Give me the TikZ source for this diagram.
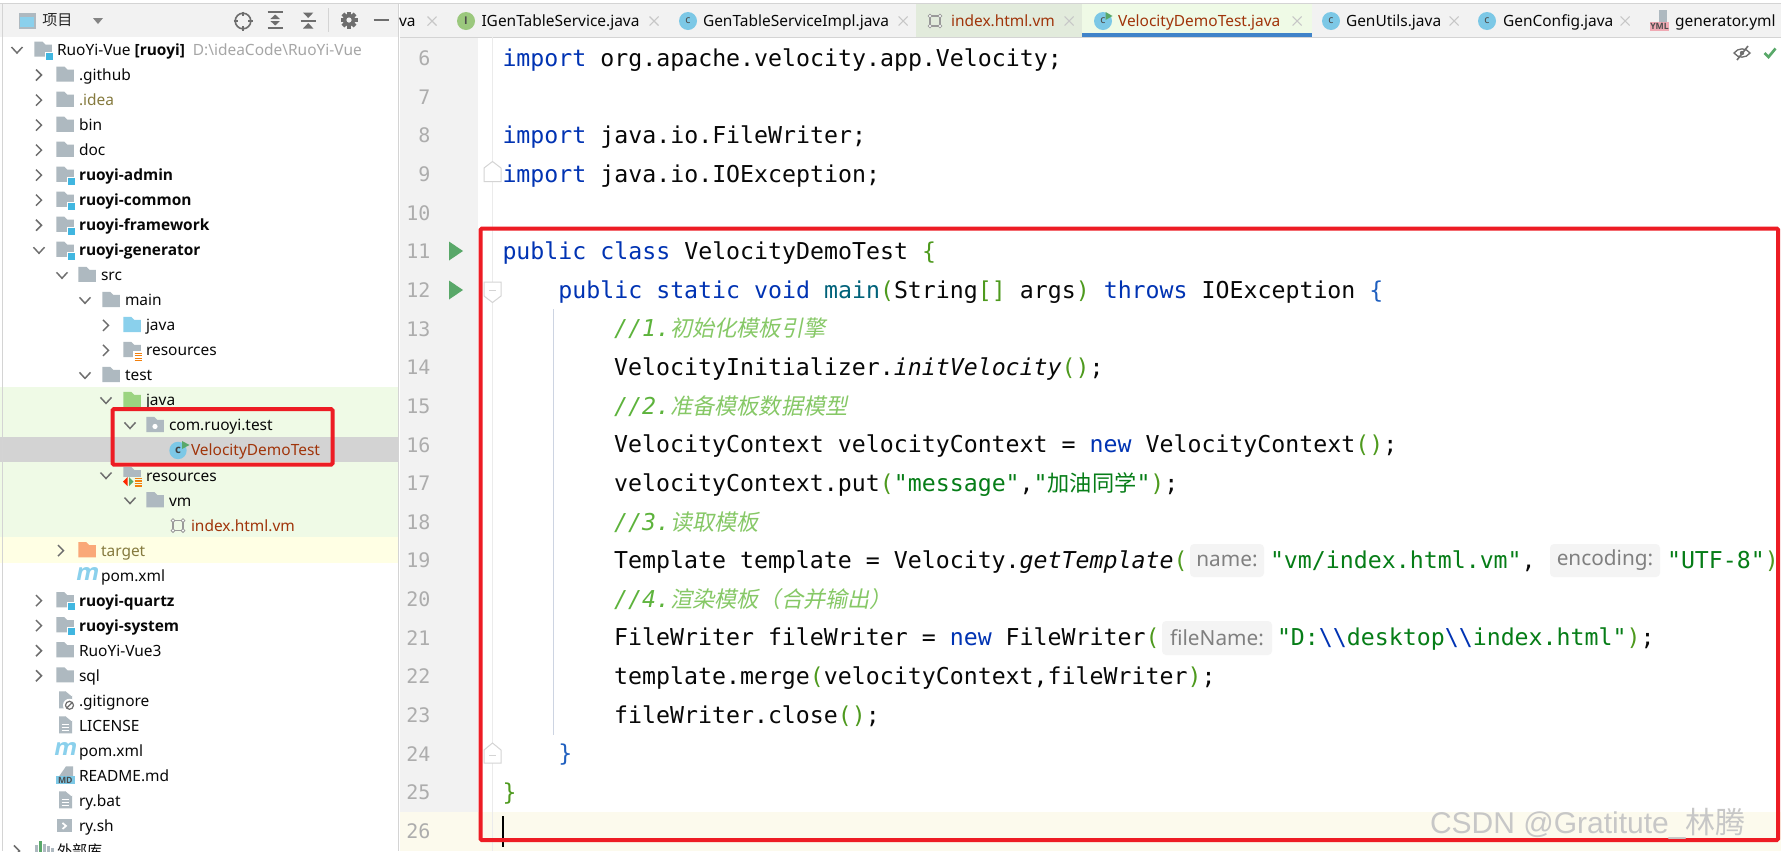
\documentclass[tikz,border=0pt]{standalone}
\usepackage{fontspec}
\newfontfamily\uifont{Noto Sans}
\newfontfamily\uibold[FakeBold=0]{Open Sans Bold}
\newfontfamily\uibolditalic[FakeSlant=0.2]{Open Sans Bold}
\newfontfamily\codefont{DejaVu Sans Mono}
\newfontfamily\cjk{Noto Sans CJK SC}
\newfontfamily\cjkit[FakeSlant=0.2]{Noto Sans CJK SC}
\newfontfamily\wmfont{Liberation Sans}
\definecolor{kwc}{HTML}{0033B3}
\definecolor{fnc}{HTML}{00627A}
\definecolor{strc}{HTML}{067D17}
\definecolor{brc}{HTML}{4E9A1E}
\definecolor{blbr}{HTML}{1F5FBF}
\definecolor{cmc}{HTML}{5DB33C}
\definecolor{cmz}{HTML}{86C866}
\definecolor{ink}{HTML}{080808}
\definecolor{redbox}{HTML}{ED1C24}
\definecolor{panelbg}{HTML}{F2F2F2}
\definecolor{rule}{HTML}{D4D4D4}
\definecolor{foldc}{HTML}{AEB9C0}
\definecolor{chev}{HTML}{6E6E6E}
\definecolor{modc}{HTML}{40B6E0}
\definecolor{clsc}{HTML}{7CC8E6}
\definecolor{testbg}{HTML}{EFFAE6}
\definecolor{targbg}{HTML}{FFFFE4}
\definecolor{selbg}{HTML}{D3D3D3}
\definecolor{brownt}{HTML}{A0340A}
\definecolor{olivet}{HTML}{857A3E}
\definecolor{capline}{HTML}{FCFAED}
\definecolor{hintbg}{HTML}{F4F4F4}
\definecolor{hintfg}{HTML}{808080}
\definecolor{numc}{HTML}{ADADAD}
\definecolor{runc}{HTML}{59A869}
\definecolor{tabblue}{HTML}{4083C9}
\definecolor{indentc}{HTML}{CDD4E2}
\definecolor{greenfold}{HTML}{9BD480}
\definecolor{orangefold}{HTML}{FAA878}
\definecolor{ifaceg}{HTML}{9BC87D}
\definecolor{ymlbg}{HTML}{F0AAB4}
\definecolor{vmtabbg}{HTML}{E2EBDC}
\definecolor{bluefold}{HTML}{8AD0EC}
\newcommand\kwd[1]{\textcolor{kwc}{#1}}
\newcommand\fnm[1]{\textcolor{fnc}{#1}}
\newcommand\strg[1]{\textcolor{strc}{#1}}
\newcommand\brk[1]{\textcolor{brc}{#1}}
\newcommand\blb[1]{\textcolor{blbr}{#1}}
\newcommand\bsl{\char92\relax}
\newcommand\bld[1]{{\uibold\fontsize{11.6}{14}\selectfont #1}}
\newcommand\cmt[2]{\textcolor{cmc}{\itshape #1}\textcolor{cmz}{\cjkit\fontsize{16.65}{20}\selectfont #2}}
\tikzset{
  codetext/.style={anchor=base west,inner sep=0pt,outer sep=0pt,text=ink,font=\codefont\fontsize{17.42}{20}\selectfont},
  numtext/.style={anchor=base east,inner sep=0pt,outer sep=0pt,text=numc,font=\codefont\fontsize{15}{18}\selectfont},
  treetext/.style={anchor=base west,inner sep=0pt,outer sep=0pt,text=ink,font=\uifont\fontsize{11.6}{14}\selectfont},
  tabtext/.style={anchor=base west,inner sep=0pt,outer sep=0pt,text=ink,font=\uifont\fontsize{11.6}{14}\selectfont},
  hinttext/.style={anchor=center,inner sep=0pt,outer sep=0pt,text=hintfg,font=\uifont\fontsize{15.6}{18}\selectfont},
  hintbox/.style={fill=hintbg,rounded corners=3pt},
  redframe/.style={draw=redbox,line width=3pt},
  chevline/.style={draw=chev,line width=1.1pt},
  pics/chevr/.style={code={\draw[chevline] (-3,-5.5)--(2.5,0)--(-3,5.5);}},
  pics/chevd/.style={code={\draw[chevline] (-5.5,-3)--(0,3)--(5.5,-3);}},
  pics/chevn/.style={code={}},
  pics/fld/.style={code={\fill[#1] (0,-8.5)--(8,-8.5)--(11,-5.5)--(17.5,-5.5)--(17.5,6.7)--(0,6.7)--cycle;}},
  pics/folder/.style={code={\pic at (-22.7,0) {fld=foldc};}},
  pics/folderblue/.style={code={\pic at (-22.7,0) {fld=bluefold};}},
  pics/foldergreen/.style={code={\pic at (-22.7,0) {fld=greenfold};}},
  pics/folderorange/.style={code={\pic at (-22.7,0) {fld=orangefold};}},
  pics/module/.style={code={\pic at (-22.7,0) {fld=foldc};
    \fill[white] (-12.3,1.5) rectangle (-3.2,10.2);
    \fill[modc] (-11.3,2.7) rectangle (-4,9.7);}},
  pics/pkg/.style={code={\pic at (-22.7,0) {fld=foldc};\fill[white] (-14,1) circle (2.6);}},
  pics/resfold/.style={code={\pic at (-22.7,0) {fld=foldc};
    \fill[white] (-13,1) rectangle (-4,10.5);
    \foreach \l in {3,5.5,8,10.5} \draw[orange!80!brown,line width=.9pt] (-11.5,\l)--(-4,\l);}},
  pics/testres/.style={code={\pic at (-22.7,0) {fld=foldc};
    \fill[testbg] (-23,1) rectangle (-4,11);
    \foreach \l in {3,5.5,8,10.5} \draw[orange!80!brown,line width=.9pt] (-11.5,\l)--(-4,\l);
    \fill[red!70!orange] (-23,6)--(-18.5,1.5)--(-18.5,10.5)--cycle;
    \fill[runc] (-17,1.5)--(-12.5,6)--(-17,10.5)--cycle;}},
  pics/classrun/.style={code={\fill[clsc] (-13,0) circle (8.7);
    \node[inner sep=0pt,text=black!75,font=\uibold\fontsize{8.5}{9}\selectfont] (-c) at (-13,0) {c};
    \fill[runc] (-9,-9.5)--(-1.5,-5.5)--(-9,-1.5)--cycle;}},
  pics/vmicon/.style={code={\draw[chev!70,line width=.9pt] (-18,-5)--(-8,-5)--(-8,5)--(-18,5)--cycle;
    \foreach \p/\q in {-18/-5,-8/-5,-18/5,-8/5} \fill[white,draw=chev!70,line width=.6pt] (\p,\q) circle (1.9);}},
  pics/mfile/.style={code={\node[inner sep=0pt,text=bluefold,font=\uibolditalic\fontsize{17.5}{18}\selectfont] (-m) at (-14.5,-2) {m};}},
  pics/paper/.style={code={\fill[foldc] (-20,-9.5)--(-11,-9.5)--(-7,-5.5)--(-7,7.5)--(-20,7.5)--cycle;
    \fill[white] (-13,-9.5)--(-13,-5)--(-7,-5)--(-7,-9.5)--cycle;
    \fill[foldc] (-13.5,-9.5)--(-8,-5)--(-13.5,-5)--cycle;
    \foreach \l in {-1,1.8,4.6} \draw[white,line width=.8pt] (-17.5,\l)--(-10,\l);}},
  pics/ignorefile/.style={code={\fill[foldc] (-20,-9.5)--(-11,-9.5)--(-7,-5.5)--(-7,7.5)--(-20,7.5)--cycle;
    \fill[white] (-13,-9.5)--(-13,-5)--(-7,-5)--(-7,-9.5)--cycle;
    \fill[foldc] (-13.5,-9.5)--(-8,-5)--(-13.5,-5)--cycle;
    \fill[white] (-9.5,4.5) circle (6.5);
    \draw[chev,line width=.9pt] (-9.5,4.5) circle (4) (-12.3,7.3)--(-6.7,1.7);}},
  pics/mdfile/.style={code={\fill[foldc] (-13,-9.5)--(-6,-9.5)--(-6,2)--(-21,2)--cycle;
    \fill[clsc] (-23,0) rectangle (-4.5,8.5);
    \node[inner sep=0pt,text=black!70,font=\uibold\fontsize{6.5}{7}\selectfont] (-md) at (-13.7,4.5) {MD};}},
  pics/shfile/.style={code={\fill[foldc] (-22,-6.5) rectangle (-7,6);
    \draw[white,line width=1.3pt] (-16.5,-3)--(-13,0)--(-16.5,3);}},
  pics/libs/.style={code={\foreach \p/\cc/\h in {-22/foldc/14,-18/runc/18,-14/foldc/15,-10/foldc/13,-6/foldc/11}
     \fill[\cc] (\p,8-\h) rectangle (\p+2.6,8);}},
  pics/cicon/.style={code={\fill[clsc] (0,0) circle (9);
    \node[inner sep=0pt,text=black!70,font=\uifont\fontsize{8}{9}\selectfont] (-c) at (0,0) {c};}},
  pics/iicon/.style={code={\fill[ifaceg] (0,0) circle (9);
    \node[inner sep=0pt,text=black!70,font=\uibold\fontsize{8}{9}\selectfont] (-i) at (0,0) {I};}},
  pics/crun/.style={code={\fill[clsc] (0,0) circle (9);
    \node[inner sep=0pt,text=black!70,font=\uifont\fontsize{8}{9}\selectfont] (-c) at (0,0) {c};
    \fill[runc] (2.5,-9)--(9.5,-5)--(2.5,-1)--cycle;}},
  pics/vmtab/.style={code={\draw[chev!70,line width=.9pt] (-5,-5) rectangle (5,5);
    \foreach \p/\q in {-5/-5,5/-5,-5/5,5/5} \fill[white,draw=chev!70,line width=.6pt] (\p,\q) circle (1.9);}},
  pics/ymlicon/.style={code={\fill[foldc] (-1,-11)--(7,-11)--(7,2)--(-1,2)--cycle;
    \fill[ymlbg] (-9.5,1) rectangle (9.5,10);
    \node[inner sep=0pt,text=black!70,font=\uibold\fontsize{6.5}{7}\selectfont] (-y) at (0,5.5) {YML};}},
  pics/xclose/.style={code={\draw[black!22,line width=.8pt] (-4.5,-4.5)--(4.5,4.5) (-4.5,4.5)--(4.5,-4.5);}},
}
% #1 row, #2 text x, #3 chevron x, #4 chevron pic, #5 icon pic, #6 node options, #7 text
\newcommand\treerow[7]{%
  \pic (chevron#1) at (#3,{50+25.03*#1}) {#4};
  \pic (icon#1) at (#2,{50+25.03*#1}) {#5};
  \node[treetext,#6] (row#1) at (#2,{55.5+25.03*#1}) {#7};
}
% #1 name, #2 icon x, #3 icon pic, #4 text x, #5 close x, #6 colour, #7 text
\newcommand\tabitem[7]{%
  \pic (tabicon#1) at (#2,21) {#3};
  \node[tabtext,text=#6] (tab#1) at (#4,26.5) {#7};
  \pic (tabx#1) at (#5,21) {xclose};
}
\newcommand\codeline[3]{\node[codetext] (code#1) at (#2,{66.2+38.65*(#1-6)}) {#3};}
\begin{document}
\begin{tikzpicture}[x=0.75pt,y=-0.75pt]
\clip (0,0) rectangle (1781,851);
\fill[white] (0,0) rectangle (1781,851);

% backgrounds
\fill[panelbg] (0,4) rectangle (398,36.5);
\fill[testbg] (0,387) rectangle (398,537);
\fill[selbg] (0,437) rectangle (398,462.2);
\fill[targbg] (0,537) rectangle (398,562.5);
\fill[panelbg] (400,4) rectangle (1781,36.5);
\fill[panelbg] (400,37) rectangle (478,851);
\fill[capline] (400,812) rectangle (1781,851);
\draw[rule,line width=1pt] (0,3.5)--(1781,3.5);
\draw[rule,line width=.75pt] (2,4)--(2,851);
\draw[rule,line width=.75pt] (398.5,4)--(398.5,851);
\draw[rule,line width=.75pt] (400,37)--(1781,37);
\draw[black!8,line width=.75pt] (492,37)--(492,851);
\draw[indentc,line width=.75pt] (553.7,309)--(553.7,735);

% panel header
\draw[foldc,line width=.9pt,fill=bluefold] (19.5,13.5) rectangle (35,28);
\fill[foldc] (19.5,13.5) rectangle (35,17);
\node[inner sep=0pt,anchor=center,text=black!85,font=\cjk\fontsize{11.3}{14}\selectfont] (projtitle) at (57.5,20.5) {项目};
\fill[chev!85] (93,18)--(103,18)--(98,24)--cycle;
\draw[chev,line width=1.2pt] (243,21) circle (7.8);
\draw[chev,line width=1.2pt] (243,11.5)--(243,16) (243,26)--(243,30.5) (233.5,21)--(238,21) (248,21)--(252.5,21);
\draw[chev,line width=1.5pt] (267.5,12)--(283,12) (267.5,28)--(283,28);
\fill[chev] (275.2,14.5)--(280,19)--(270.4,19)--cycle (275.2,25.5)--(280,21)--(270.4,21)--cycle;
\draw[chev,line width=1.5pt] (300.5,20.5)--(316,20.5);
\fill[chev] (308.2,18)--(303,12.5)--(313.4,12.5)--cycle (308.2,23)--(303,28.5)--(313.4,28.5)--cycle;
\draw[rule,line width=.75pt] (328.5,8)--(328.5,32);
\foreach \a in {0,45,...,315} \fill[chev,rotate around={\a:(349,20)}] (347,11.5) rectangle (351,15);
\fill[chev] (349,20) circle (6.2);
\fill[panelbg] (349,20) circle (2.6);
\draw[chev,line width=1.5pt] (373.5,20)--(388.5,20);

% project tree
\treerow{0}{57}{17}{chevd}{module}{}{RuoYi-Vue \bld{[ruoyi]}\hspace{6pt}\textcolor{black!35}{D:\char92 ideaCode\char92 RuoYi-Vue}}
\treerow{1}{79}{39}{chevr}{folder}{}{.github}
\treerow{2}{79}{39}{chevr}{folder}{text=olivet}{.idea}
\treerow{3}{79}{39}{chevr}{folder}{}{bin}
\treerow{4}{79}{39}{chevr}{folder}{}{doc}
\treerow{5}{79}{39}{chevr}{module}{}{\bld{ruoyi-admin}}
\treerow{6}{79}{39}{chevr}{module}{}{\bld{ruoyi-common}}
\treerow{7}{79}{39}{chevr}{module}{}{\bld{ruoyi-framework}}
\treerow{8}{79}{39}{chevd}{module}{}{\bld{ruoyi-generator}}
\treerow{9}{101}{62}{chevd}{folder}{}{src}
\treerow{10}{125}{85}{chevd}{folder}{}{main}
\treerow{11}{146}{106}{chevr}{folderblue}{}{java}
\treerow{12}{146}{106}{chevr}{resfold}{}{resources}
\treerow{13}{125}{85}{chevd}{folder}{}{test}
\treerow{14}{146}{106}{chevd}{foldergreen}{}{java}
\treerow{15}{169}{130}{chevd}{pkg}{}{com.ruoyi.test}
\treerow{16}{191}{152}{chevn}{classrun}{text=brownt}{VelocityDemoTest}
\treerow{17}{146}{106}{chevd}{testres}{}{resources}
\treerow{18}{169}{130}{chevd}{folder}{}{vm}
\treerow{19}{191}{152}{chevn}{vmicon}{text=brownt}{index.html.vm}
\treerow{20}{101}{61}{chevr}{folderorange}{text=olivet}{target}
\treerow{21}{101}{61}{chevn}{mfile}{}{pom.xml}
\treerow{22}{79}{39}{chevr}{module}{}{\bld{ruoyi-quartz}}
\treerow{23}{79}{39}{chevr}{module}{}{\bld{ruoyi-system}}
\treerow{24}{79}{39}{chevr}{folder}{}{RuoYi-Vue3}
\treerow{25}{79}{39}{chevr}{folder}{}{sql}
\treerow{26}{79}{39}{chevn}{ignorefile}{}{.gitignore}
\treerow{27}{79}{39}{chevn}{paper}{}{LICENSE}
\treerow{28}{79}{39}{chevn}{mfile}{}{pom.xml}
\treerow{29}{79}{39}{chevn}{mdfile}{}{README.md}
\treerow{30}{79}{39}{chevn}{paper}{}{ry.bat}
\treerow{31}{79}{39}{chevn}{shfile}{}{ry.sh}
\treerow{32}{57}{17}{chevr}{libs}{font=\cjk\fontsize{11.3}{14}\selectfont}{外部库}

% small red frame
\draw[redframe,rounded corners=1pt] (112.5,409) rectangle (332.5,464.5);

% tabs
\fill[vmtabbg] (916,4) rectangle (1082,36.5);
\fill[testbg] (1082,4) rectangle (1312,33);
\fill[tabblue] (1082,33) rectangle (1312,37);
\node[tabtext] (tabva) at (399,26.5) {va};
\pic (tabxva) at (432,21) {xclose};
\tabitem{a}{466}{iicon}{481.5}{654}{ink}{IGenTableService.java}
\tabitem{b}{688}{cicon}{703}{903}{ink}{GenTableServiceImpl.java}
\tabitem{c}{935}{vmtab}{951}{1069}{brownt}{index.html.vm}
\tabitem{d}{1103}{crun}{1118}{1297}{brownt}{VelocityDemoTest.java}
\tabitem{e}{1331}{cicon}{1346}{1454}{ink}{GenUtils.java}
\tabitem{f}{1487}{cicon}{1503}{1625}{ink}{GenConfig.java}
\pic (tabicong) at (1659.5,21) {ymlicon};
\node[tabtext] (tabg) at (1675,26.5) {generator.yml};

% eye + check
\draw[chev,line width=1pt] (1734,53) .. controls (1738,47.5) and (1746,47.5) .. (1750,53) .. controls (1746,58.5) and (1738,58.5) .. (1734,53) -- cycle;
\fill[chev] (1742,53) circle (2.2);
\draw[chev,line width=1.2pt] (1737,60)--(1748,46);
\draw[runc,line width=2pt] (1764.5,53)--(1768.5,57)--(1775.5,48.5);

% gutter
\foreach \n in {6,...,26} \node[numtext] (num\n) at (430.5,{65.5+38.65*(\n-6)}) {\n};
\fill[runc] (449,241.5)--(463,251)--(449,260.5)--cycle;
\fill[runc] (449,280.5)--(463,290)--(449,299.5)--cycle;
\draw[rule,line width=.75pt,fill=white] (484,282)--(501,282)--(501,296)--(492.5,302.5)--(484,296)--cycle;
\draw[rule,line width=.75pt] (489,290)--(496,290);
\draw[rule,line width=.75pt,fill=white] (484,181.5)--(501,181.5)--(501,168)--(492.5,161.5)--(484,168)--cycle;
\draw[rule,line width=.75pt,fill=white] (484,763)--(501,763)--(501,750)--(492.5,743)--(484,750)--cycle;
\draw[rule,line width=.75pt] (489,755.5)--(496,755.5);

% code
\codeline{6}{502.5}{\kwd{import} org.apache.velocity.app.Velocity;}
\codeline{8}{502.5}{\kwd{import} java.io.FileWriter;}
\codeline{9}{502.5}{\kwd{import} java.io.IOException;}
\codeline{11}{502.5}{\kwd{public class} VelocityDemoTest \brk{\{}}
\codeline{12}{558.4}{\kwd{public static void} \fnm{main}\brk{(}String\brk{[]} args\brk{)} \kwd{throws} IOException \blb{\{}}
\codeline{13}{614.2}{\cmt{//1.}{初始化模板引擎}}
\codeline{14}{614.2}{VelocityInitializer.\textit{initVelocity}\brk{()};}
\codeline{15}{614.2}{\cmt{//2.}{准备模板数据模型}}
\codeline{16}{614.2}{VelocityContext velocityContext = \kwd{new} VelocityContext\brk{()};}
\codeline{17}{614.2}{velocityContext.put\brk{(}\strg{"message"},\strg{"}\textcolor{strc}{\cjk\fontsize{16.65}{20}\selectfont 加油同学}\strg{"}\brk{)};}
\codeline{18}{614.2}{\cmt{//3.}{读取模板}}
\codeline{19}{614.2}{Template template = Velocity.\textit{getTemplate}\brk{(}}
\codeline{20}{614.2}{\cmt{//4.}{渲染模板（合并输出）}}
\codeline{21}{614.2}{FileWriter fileWriter = \kwd{new} FileWriter\brk{(}}
\codeline{22}{614.2}{template.merge\brk{(}velocityContext,fileWriter\brk{)};}
\codeline{23}{614.2}{fileWriter.close\brk{()};}
\codeline{24}{558.4}{\blb{\}}}
\codeline{25}{502.5}{\brk{\}}}

% inlay hints and the rest of lines 19 and 21
\fill[hintbox] (1190,544) rectangle (1264,577);
\fill[hintbox] (1550,544) rectangle (1660,577);
\fill[hintbox] (1162,621) rectangle (1272,655);
\node[hinttext] (hintname) at (1227,560.5) {name:};
\node[hinttext] (hintenc) at (1605,560.5) {encoding:};
\node[hinttext] (hintfile) at (1217,638) {fileName:};
\node[codetext] (code19b) at (1270,{66.2+38.65*13}) {\strg{"vm/index.html.vm"},};
\node[codetext] (code19c) at (1667,{66.2+38.65*13}) {\strg{"UTF-8"}\brk{)};};
\node[codetext] (code21b) at (1277,{66.2+38.65*15}) {\strg{"D:\textcolor{kwc}{\bsl\bsl}desktop\textcolor{kwc}{\bsl\bsl}index.html"}\brk{)};};

% caret and big frame
\draw[black,line width=1.5pt] (503,816)--(503,847);
\draw[redframe,rounded corners=1pt] (480.5,228.5) rectangle (1778,840);

% watermark
\node[anchor=base west,inner sep=0pt,outer sep=0pt,text=black!22,font=\wmfont\fontsize{22.5}{26}\selectfont] (watermark) at (1430,833) {CSDN @Gratitute\_{\cjk\fontsize{22.5}{26}\selectfont 林腾}};
\end{tikzpicture}
\end{document}
